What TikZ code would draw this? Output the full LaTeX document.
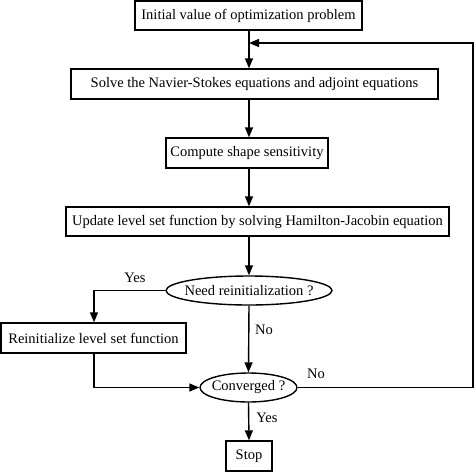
\documentclass[tikz,border=0pt]{standalone}
\usepackage{fontspec}
\setmainfont{Liberation Serif}
\usetikzlibrary{shapes.geometric,arrows.meta}
\begin{document}
\begin{tikzpicture}[x=1pt,y=-1pt,
  every node/.style={font=\fontsize{14.5}{16}\selectfont},
  box/.style={draw,line width=1.4pt,rectangle,inner sep=0pt,anchor=center},
  oval/.style={draw,line width=1.4pt,ellipse,inner sep=0pt,anchor=center},
  conn/.style={line width=1.4pt},
  arr/.style={conn,-{Triangle[length=10pt,width=8pt]}},
  lbl/.style={inner sep=0pt}]
\useasboundingbox (0,0) rectangle (474,472);
\node[box,minimum width=227pt,minimum height=29pt] (b1) at (248.5,15.5) {Initial value of optimization problem};
\node[box,minimum width=367pt,minimum height=30pt] (b2) at (254.5,84) {Solve the Navier-Stokes equations and adjoint equations};
\node[box,minimum width=162pt,minimum height=30pt] (b3) at (247,153) {Compute shape sensitivity};
\node[box,minimum width=383pt,minimum height=29pt] (b4) at (257.5,221.5) {Update level set function by solving Hamilton-Jacobin equation};
\node[oval,minimum width=166pt,minimum height=29pt] (e1) at (249,290.5) {};
\node[lbl] (e1t) at (e1.center) {Need reinitialization ?};
\node[box,minimum width=185pt,minimum height=30pt] (b5) at (93.5,338) {Reinitialize level set function};
\node[oval,minimum width=97pt,minimum height=29pt] (e2) at (248.5,387.5) {};
\node[lbl] (e2t) at (e2.center) {Converged ?};
\node[box,minimum width=46pt,minimum height=30pt] (b6) at (249,456) {Stop};
\coordinate (fb) at (249,43);
\coordinate (rc) at (473,43);
\coordinate (lc) at (94,290.5);
\coordinate (bc) at (94,387.5);
\coordinate (rc2) at (473,387.5);
\draw[arr] (b1.south -| fb) -- (fb |- b2.north);
\draw[arr] (fb |- b2.south) -- (fb |- b3.north);
\draw[arr] (fb |- b3.south) -- (fb |- b4.north);
\draw[arr] (fb |- b4.south) -- (e1.north);
\draw[arr] (e1.west) -- (lc) -- (lc |- b5.north);
\draw[arr] (e1.south) -- (e2.north);
\draw[arr] (lc |- b5.south) -- (bc) -- (e2.west);
\draw[arr] (e2.south) -- (b6.north);
\draw[arr] (e2.east) -- (rc2) -- (rc) -- (fb);
\node[lbl] (ly1) at (135,278) {Yes};
\node[lbl] (ln1) at (264,330) {No};
\node[lbl] (ln2) at (316,374) {No};
\node[lbl] (ly2) at (267,418) {Yes};
\end{tikzpicture}
\end{document}
